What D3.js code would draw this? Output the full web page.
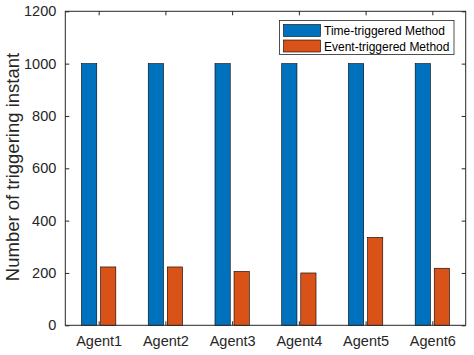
<!DOCTYPE html>
<html><head><meta charset="utf-8">
<script src="https://cdn.jsdelivr.net/npm/d3@7"></script>
<style>body{margin:0;background:#fff;} svg{display:block;font-family:"Liberation Sans",Arial,sans-serif;}</style>
</head><body>
<svg id="c" width="474" height="355"></svg>
<script>
const categories = ["Agent1","Agent2","Agent3","Agent4","Agent5","Agent6"];
const seriesNames = ["Time-triggered Method","Event-triggered Method"];
const timeTriggered = [1000,1000,1000,1000,1000,1000];
const eventTriggered = [223,223,206,200,336,218];
const yTicks = [0,200,400,600,800,1000,1200];
const colors = ["#0072BD","#D95319"];

const svg = d3.select("#c");
const m = {l:65.3, r:465.7, t:11.3, b:325.3};
const x = d3.scaleLinear().domain([0.5,6.5]).range([m.l,m.r]);
const y = d3.scaleLinear().domain([0,1200]).range([m.b,m.t]);
const ax = "#262626";
const FF = "Liberation Sans, Arial, sans-serif";

const series = [timeTriggered, eventTriggered];
const offsets = [-1/7, 1/7];
const bw = 0.2286;
series.forEach((vals,si)=>{
  svg.append("g").selectAll("rect").data(vals).join("rect")
    .attr("x",(d,i)=>x(i+1+offsets[si]-bw/2))
    .attr("width",x(bw)-x(0))
    .attr("y",d=>y(d))
    .attr("height",d=>y(0)-y(d))
    .attr("fill",colors[si]).attr("stroke","#000").attr("stroke-width",0.6);
});

// box
svg.append("rect").attr("x",m.l).attr("y",m.t).attr("width",m.r-m.l).attr("height",m.b-m.t)
  .attr("fill","none").attr("stroke",ax).attr("stroke-width",1);

// y axis
const yAx = d3.axisLeft(y).tickValues(yTicks).tickSizeInner(-4).tickSizeOuter(0).tickPadding(9).tickFormat(d3.format("d"));
const gy = svg.append("g").attr("transform",`translate(${m.l},0)`).call(yAx);
gy.select(".domain").remove();
gy.selectAll("line").attr("stroke",ax);
gy.selectAll("text").attr("fill",ax).style("font-size","14.5px").style("font-family",FF);
const gyr = svg.append("g").attr("transform",`translate(${m.r},0)`).call(d3.axisRight(y).tickValues(yTicks).tickSizeInner(-4).tickSizeOuter(0).tickFormat(""));
gyr.select(".domain").remove(); gyr.selectAll("line").attr("stroke",ax);

// x axis
const xt = categories.map((c,i)=>i+1);
const gx = svg.append("g").attr("transform",`translate(0,${m.b})`)
  .call(d3.axisBottom(x).tickValues(xt).tickSizeInner(-4).tickSizeOuter(0).tickPadding(10).tickFormat((d)=>categories[d-1]));
gx.select(".domain").remove();
gx.selectAll("line").attr("stroke",ax);
gx.selectAll("text").attr("fill",ax).style("font-size","14.5px").style("font-family",FF);
const gxt = svg.append("g").attr("transform",`translate(0,${m.t})`)
  .call(d3.axisTop(x).tickValues(xt).tickSizeInner(-4).tickSizeOuter(0).tickFormat(""));
gxt.select(".domain").remove(); gxt.selectAll("line").attr("stroke",ax);

// y label
svg.append("text").attr("transform",`translate(19,167) rotate(-90)`).attr("text-anchor","middle")
  .attr("fill",ax).style("font-size","18.5px").text("Number of triggering instant");

// legend
const lg = svg.append("g");
lg.append("rect").attr("x",279.5).attr("y",20.5).attr("width",174.5).attr("height",34).attr("fill","#fff").attr("stroke",ax).attr("stroke-width",0.8);
seriesNames.forEach((n,i)=>{
  lg.append("rect").attr("x",283.5).attr("y",24.5+i*15.5).attr("width",37).attr("height",12)
    .attr("fill",colors[i]).attr("stroke","#000").attr("stroke-width",0.6);
  lg.append("text").attr("x",324).attr("y",31+i*15.5).attr("dominant-baseline","central")
    .attr("fill","#000").style("font-size","12px").text(n);
});
</script>
</body></html>
